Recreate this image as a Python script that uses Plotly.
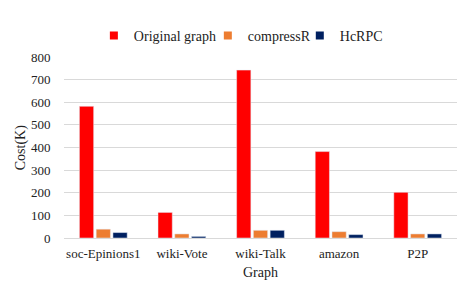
import plotly.graph_objects as go

categories = ["soc-Epinions1", "wiki-Vote", "wiki-Talk", "amazon", "P2P"]
original = [582, 113, 742, 382, 202]
compressR = [39, 18, 34, 28, 18]
hcrpc = [24, 7, 34, 15, 18]

series_names = ["Original graph", "compressR", "HcRPC"]
series_colors = ["#FF0000", "#ED7D31", "#002060"]
series_values = [original, compressR, hcrpc]
legend_ids = ["legend", "legend2", "legend3"]

font_family = "Liberation Serif, Times New Roman, serif"

fig = go.Figure()
for name, color, vals in zip(series_names, series_colors, series_values):
    fig.add_trace(go.Bar(name=name, x=categories, y=vals, marker_color=color, showlegend=False))
# legend entries with small square symbols
for name, color, lg in zip(series_names, series_colors, legend_ids):
    fig.add_trace(go.Scatter(name=name, x=[None], y=[None], mode="markers",
                             marker=dict(symbol="square", size=8, color=color),
                             legend=lg, showlegend=True))

legend_x = [0.076, 0.366, 0.600]
leg_common = dict(orientation="h", xanchor="left", y=1.116, yanchor="middle",
                  font=dict(size=14, color="#222222"), itemwidth=30,
                  bgcolor="rgba(0,0,0,0)", borderwidth=0)

fig.update_layout(
    width=474, height=284,
    margin=dict(l=64, r=17, t=57, b=46),
    paper_bgcolor="white", plot_bgcolor="white",
    barmode="group", bargap=0.36, bargroupgap=0.15,
    font=dict(family=font_family, size=13, color="#222222"),
    legend=dict(x=legend_x[0], **leg_common),
    legend2=dict(x=legend_x[1], **leg_common),
    legend3=dict(x=legend_x[2], **leg_common),
    annotations=[
        dict(text="Graph", xref="paper", yref="paper", x=0.5, y=-0.19,
             xanchor="center", yanchor="middle", showarrow=False, font=dict(size=14)),
        dict(text="Cost(K)", xref="paper", yref="paper", x=-0.11, y=0.5, textangle=-90,
             xanchor="center", yanchor="middle", showarrow=False, font=dict(size=14)),
    ],
)
fig.update_xaxes(
    automargin=False,
    showgrid=False, showline=True, linecolor="#D9D9D9", linewidth=1,
    ticks="outside", ticklen=3, tickcolor="rgba(0,0,0,0)", tickfont=dict(size=13),
)
fig.update_yaxes(
    automargin=False,
    range=[0, 800], dtick=100, showgrid=True, gridcolor="#D9D9D9", gridwidth=1,
    zeroline=False, showline=False,
    ticks="outside", ticklen=10, tickcolor="rgba(0,0,0,0)", tickfont=dict(size=13),
)

fig.write_html("out.html")
